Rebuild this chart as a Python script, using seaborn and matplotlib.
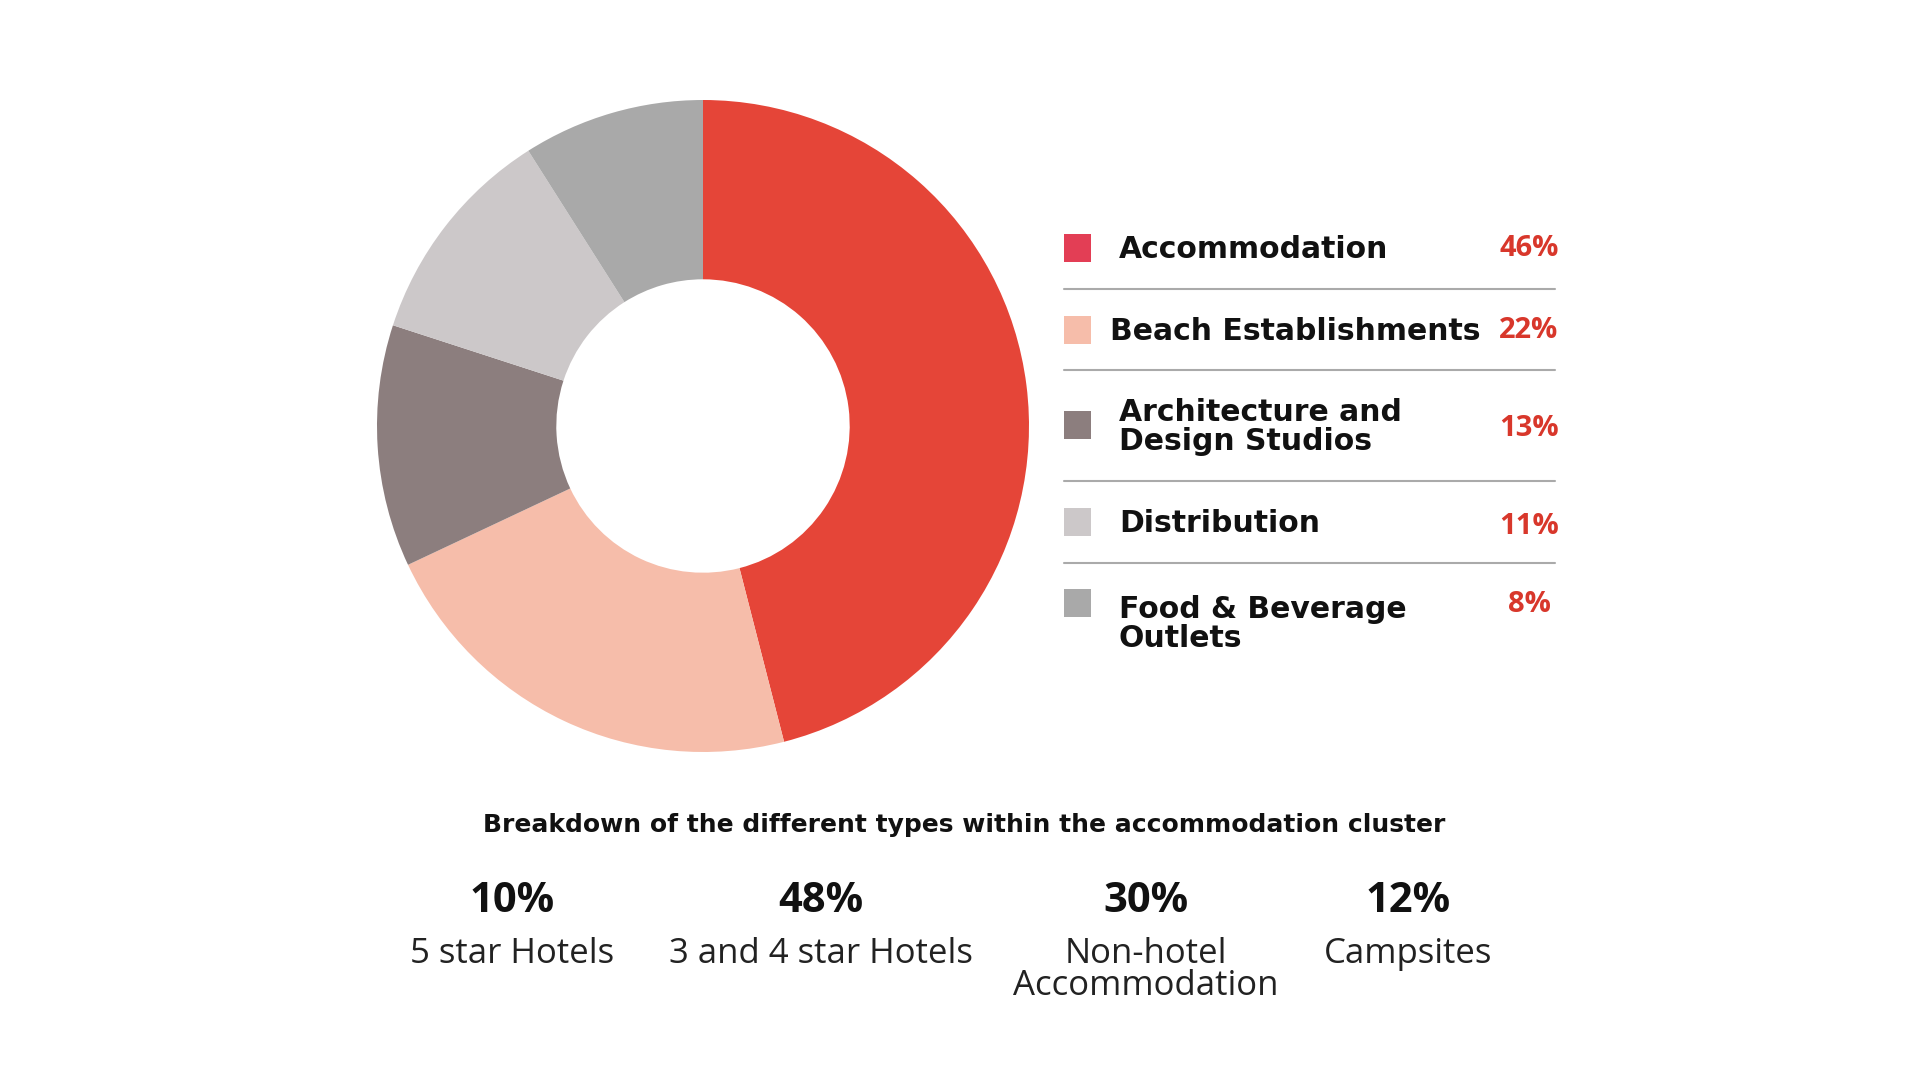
import matplotlib
matplotlib.use("Agg")
import matplotlib.pyplot as plt
import seaborn as sns

# main donut: share of companies by sector
sectors = ["Accommodation", "Beach Establishments", "Architecture and\nDesign Studios",
           "Distribution", "Food & Beverage\nOutlets"]
share_labels = [46, 22, 13, 11, 8]
# slice sizes as drawn in the picture
slice_sizes = [46, 22, 12, 11, 9]
sector_colors = ["#E54538", "#F6BDAA", "#8C7E7E", "#CCC8C9", "#A9A9A9"]
legend_colors = ["#E33E55", "#F6BDAA", "#8C7E7E", "#CCC8C9", "#A9A9A9"]

# breakdown within accommodation
acc_types = ["5 star Hotels", "3 and 4 star Hotels", "Non-hotel\nAccommodation", "Campsites"]
acc_shares = [10, 48, 30, 12]

sns.set_theme(style="white")
plt.rcParams['font.family'] = ['Open Sans', 'DejaVu Sans']
wide_bold = ['DejaVu Sans']

W, H = 1920, 1080
fig = plt.figure(figsize=(19.2, 10.8), dpi=100)
fig.patch.set_facecolor("white")

# donut axes: centre (703, 426) px, radius 326 px
cx, cy, r = 703, 426, 326
ax = fig.add_axes([(cx - r) / W, (H - cy - r) / H, 2 * r / W, 2 * r / H])
ax.pie(slice_sizes, colors=sns.color_palette(sector_colors), startangle=90, counterclock=False,
       radius=1, wedgeprops=dict(width=0.55, linewidth=0))
ax.set_xlim(-1, 1)
ax.set_ylim(-1, 1)
ax.set_aspect("equal")
ax.axis("off")

# overlay in pixel units for legend and captions
ov = fig.add_axes([0, 0, 1, 1])
ov.set_xlim(0, W)
ov.set_ylim(H, 0)
ov.axis("off")

square_y = [248, 330, 425, 522, 603]
text_x = [1119, 1110, 1119, 1119, 1119]
text_y = [249, 331, 427, 524, 624]
pct_y = [249, 331, 428, 526, 604]
for i, (name, val) in enumerate(zip(sectors, share_labels)):
    ov.add_patch(plt.Rectangle((1064, square_y[i] - 14), 27, 28, color=legend_colors[i], lw=0))
    ov.text(text_x[i], text_y[i], name, ha="left", va="center", fontsize=21.5, fontweight="bold",
            color="#111111", linespacing=1.02, family=wide_bold)
    ov.text(1529, pct_y[i], f"{val}%", ha="center", va="center", fontsize=21,
            fontweight="bold", color="#D8372B")

for y in [289, 370, 481, 563]:
    ov.plot([1064, 1555], [y, y], color="#AAAAAA", lw=1.5)

ov.text(964, 825, "Breakdown of the different types within the accommodation cluster",
        ha="center", va="center", fontsize=18, fontweight="bold", color="#111111",
        family=wide_bold)

col_x = [512, 821, 1146, 1408]
for x, name, val in zip(col_x, acc_types, acc_shares):
    ov.text(x, 902, f"{val}%", ha="center", va="center", fontsize=30,
            fontweight="bold", color="#111111")
    ov.text(x, 937, name, ha="center", va="top", fontsize=25, color="#222222",
            linespacing=0.92)

fig.savefig("out.png", dpi=100, facecolor="white")
